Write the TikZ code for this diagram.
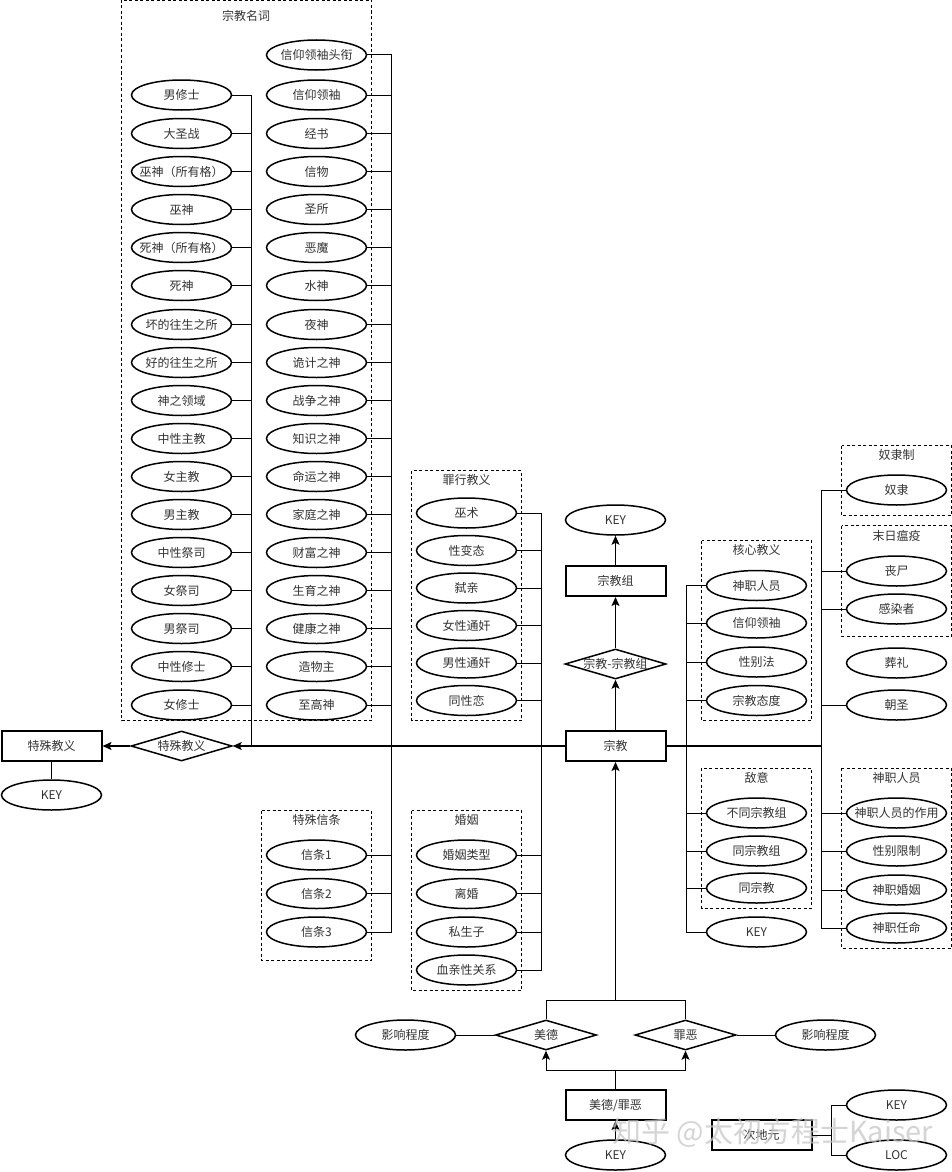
\documentclass[tikz,border=0pt]{standalone}
\usepackage{fontspec}
\setmainfont{Noto Sans CJK SC}
\usepackage{tikz}
\usetikzlibrary{shapes.geometric}
\usetikzlibrary{arrows.meta}

\tikzset{
    attrib/.style={ellipse,draw,line width=1.5pt,fill=white,minimum width=100pt,minimum height=30pt,inner sep=0pt},
    entite/.style={rectangle,draw,line width=2pt,fill=white,minimum width=100pt,minimum height=30pt,inner sep=0pt},
    relation/.style={diamond,draw,line width=1.5pt,fill=white,minimum width=101pt,minimum height=30pt,inner sep=0pt,aspect=3.3},
    groupe/.style={draw,dashed,line width=0.8pt,dash pattern=on 3pt off 2.5pt},
    titre/.style={inner sep=0pt},
    lien/.style={line width=1pt},
    tronc/.style={line width=2pt},
    fleche/.style={line width=1pt,-{Stealth[length=9pt,width=8pt,inset=2pt]}},
}
\newcommand{\etiq}[1]{\makebox[0pt]{#1}}

\begin{document}
\begin{tikzpicture}[x=1pt,y=-1pt,font=\fontsize{12pt}{14pt}\selectfont,text=black!80]
    \useasboundingbox (0,0) rectangle (952,1172);

    % points on the long vertical lines
    \coordinate (busA) at (251,746);
    \coordinate (busB) at (391,746);
    \coordinate (busC) at (541,746);
    \coordinate (busD) at (686,746);
    \coordinate (busE) at (821.5,746);
    \coordinate (split) at (615.5,1000);
    \coordinate (splitbas) at (615.5,1070);
    \coordinate (splitloc) at (831,1135);

    % dashed groups
    \foreach \nom/\xa/\ya/\xb/\yb/\tx/\ty/\txt in {
        gNoms/121.5/0/371.5/720.5/246/16/宗教名词,
        gCrime/411.5/470.5/521.5/720.5/466.5/480/罪行教义,
        gCoeur/701.5/540.5/811.5/720.5/756.5/550/核心教义,
        gEscl/841.5/445.5/951.5/515.5/896.5/455/奴隶制,
        gPeste/841.5/525.5/951.5/636/896.5/535.5/末日瘟疫,
        gHaine/701.5/768/811.5/908/756.5/778/敌意,
        gClerge/841.5/768/951.5/948/896.5/778/神职人员,
        gCredo/261.5/810.5/371.5/960.5/316.5/820/特殊信条,
        gMariage/411.5/810.5/521.5/990.5/466.5/820/婚姻}{
        \draw[groupe] (\xa,\ya) rectangle (\xb,\yb);
        \node[titre] (\nom) at (\tx,\ty) {\txt};
    }

    % left column of names
    \foreach \nom/\y/\txt in {
        a1/95/男修士,a2/133.5/大圣战,a3/171.5/巫神（所有格）,a4/209.5/巫神,a5/247.5/死神（所有格）,
        a6/285.5/死神,a7/324.5/坏的往生之所,a8/362.5/好的往生之所,a9/400.5/神之领域,a10/438.5/中性主教,
        a11/476.5/女主教,a12/514.5/男主教,a13/552.5/中性祭司,a14/590.5/女祭司,a15/628.5/男祭司,
        a16/666.5/中性修士,a17/705/女修士}{
        \node[attrib] (\nom) at (181.5,\y) {\etiq{\txt}};
        \draw[lien] (\nom.east) -| (busA);
    }

    % right column of names and the creeds
    \foreach \nom/\y/\txt in {
        b0/55/信仰领袖头衔,b1/95/信仰领袖,b2/133.5/经书,b3/171.5/信物,b4/209.5/圣所,b5/247.5/恶魔,
        b6/285.5/水神,b7/324.5/夜神,b8/362.5/诡计之神,b9/400.5/战争之神,b10/438.5/知识之神,
        b11/476.5/命运之神,b12/514.5/家庭之神,b13/552.5/财富之神,b14/590.5/生育之神,b15/628.5/健康之神,
        b16/666.5/造物主,b17/705/至高神,c1/855/信条1,c2/893.5/信条2,c3/932/信条3}{
        \node[attrib] (\nom) at (316.5,\y) {\etiq{\txt}};
        \draw[lien] (\nom.east) -| (busB);
    }

    % sins and marriage
    \foreach \nom/\y/\txt in {
        d1/513/巫术,d2/550.5/性变态,d3/588/弑亲,d4/625.5/女性通奸,d5/663/男性通奸,d6/700.5/同性恋,
        e1/855/婚姻类型,e2/893.5/离婚,e3/932/私生子,e4/970/血亲性关系}{
        \node[attrib] (\nom) at (466.5,\y) {\etiq{\txt}};
        \draw[lien] (\nom.east) -| (busC);
    }

    % core doctrines and hostility
    \foreach \nom/\y/\txt in {
        f1/585.5/神职人员,f2/623/信仰领袖,f3/662/性别法,f4/700.5/宗教态度,
        g1/813/不同宗教组,g2/851/同宗教组,g3/888/同宗教,g4/932/KEY}{
        \node[attrib] (\nom) at (756.5,\y) {\etiq{\txt}};
        \draw[lien] (\nom.west) -| (busD);
    }

    % far right column
    \foreach \nom/\y/\txt in {
        h1/490/奴隶,h2/571/丧尸,h3/609/感染者,h4/705/朝圣,
        i1/813/神职人员的作用,i2/851/性别限制,i3/890/神职婚姻,i4/928/神职任命}{
        \node[attrib] (\nom) at (896.5,\y) {\etiq{\txt}};
        \draw[lien] (\nom.west) -| (busE);
    }
    \node[attrib] (h5) at (896.5,663) {葬礼};

    % centre
    \node[entite] (religion) at (615.5,746) {宗教};
    \node[relation] (rGroupe) at (615.5,664) {\etiq{宗教-宗教组}};
    \node[entite] (groupeRel) at (615.5,581) {宗教组};
    \node[attrib] (keyGroupe) at (615.5,520) {KEY};
    \draw[fleche] (religion) -- (rGroupe);
    \draw[fleche] (rGroupe) -- (groupeRel);
    \draw[fleche] (groupeRel) -- (keyGroupe);

    % special doctrine
    \node[relation] (rSpecial) at (181.5,746) {\etiq{特殊教义}};
    \node[entite] (special) at (51.5,746) {特殊教义};
    \node[attrib] (keySpecial) at (51.5,795) {KEY};
    \draw[tronc] (busE) -- (religion);
    \draw[tronc] (religion) -- (busA);
    \draw[tronc,-{Stealth[length=9pt,width=8pt,inset=2pt]}] (busA) -- (rSpecial);
    \draw[tronc,-{Stealth[length=9pt,width=8pt,inset=2pt]}] (rSpecial) -- (special);
    \draw[lien] (special) -- (keySpecial);

    % virtues and sins
    \node[relation] (vertu) at (546,1035) {\etiq{美德}};
    \node[relation] (vice) at (685.5,1035) {\etiq{罪恶}};
    \node[attrib] (impactV) at (405.5,1035) {影响程度};
    \node[attrib] (impactP) at (825.5,1035) {影响程度};
    \node[entite] (vertuVice) at (615.5,1105) {美德/罪恶};
    \node[attrib] (keyVertu) at (615.5,1155) {KEY};
    \draw[fleche] (split) -- (religion);
    \draw[lien] (vertu) |- (split);
    \draw[lien] (vice) |- (split);
    \draw[lien] (impactV) -- (vertu);
    \draw[lien] (vice) -- (impactP);
    \draw[lien] (vertuVice) -- (splitbas);
    \draw[fleche] (splitbas) -| (vertu);
    \draw[fleche] (splitbas) -| (vice);
    \draw[fleche] (keyVertu) -- (vertuVice);

    % sub-location
    \node[entite] (lieu) at (761.5,1135) {次地元};
    \node[attrib] (keyLieu) at (896.5,1105) {KEY};
    \node[attrib] (locLieu) at (896.5,1155) {LOC};
    \draw[lien] (lieu) -- (splitloc);
    \draw[lien] (keyLieu) -| (splitloc);
    \draw[lien] (locLieu) -| (splitloc);

    % watermark
    \node[inner sep=0pt,anchor=west,text=gray!45,opacity=0.75,font=\fontsize{29pt}{31pt}\selectfont] (marque) at (612,1133) {知乎 @太初方程士Kaiser};
\end{tikzpicture}
\end{document}
